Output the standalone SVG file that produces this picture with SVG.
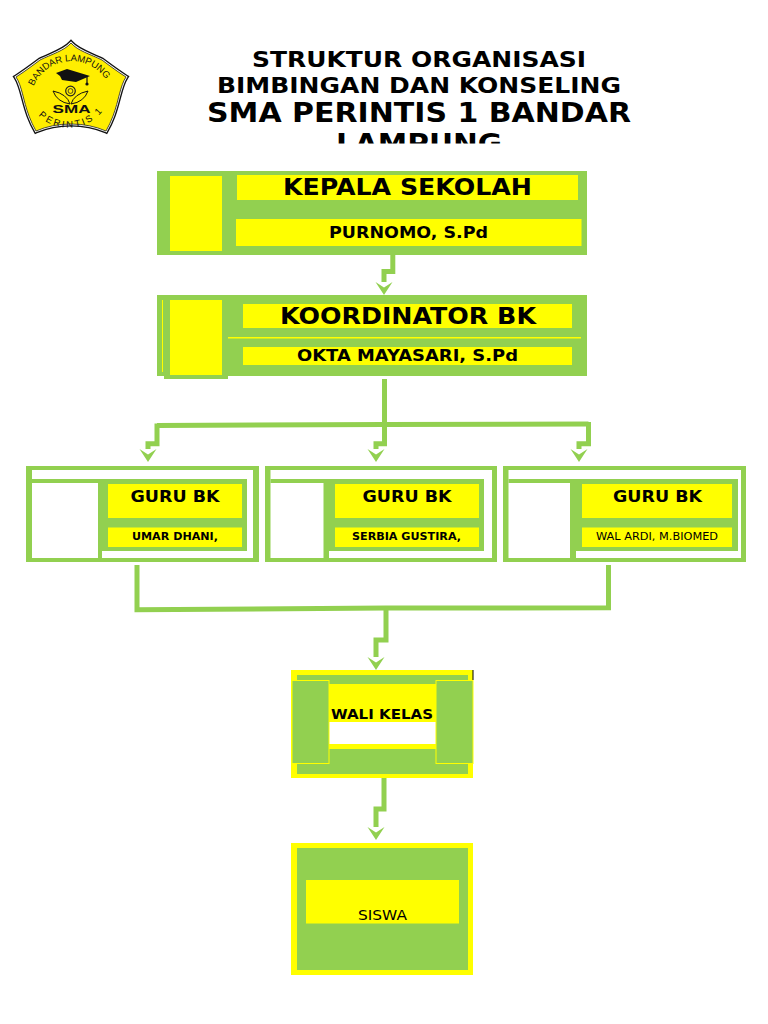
<svg xmlns="http://www.w3.org/2000/svg" width="768" height="1024" viewBox="0 0 768 1024">
<style>
.g{fill:#92D050}.y{fill:#FFFF00}.w{fill:#FFFFFF}
text{font-family:"DejaVu Sans",sans-serif;fill:#000;text-anchor:middle}
.b{font-weight:bold}
.lg{font-family:"Liberation Sans",sans-serif;fill:#111}
.c{fill:none;stroke:#92D050;stroke-width:5;stroke-linejoin:miter;marker-end:url(#chev)}
.n{fill:none;stroke:#92D050;stroke-width:5}
.sy{fill:#92D050;stroke:#FFFF00;stroke-width:1}
</style>
<defs>
<marker id="chev" markerUnits="userSpaceOnUse" markerWidth="14" markerHeight="18" viewBox="0 -9 14 18" refX="0" refY="0" orient="auto"><path d="M0,-8.500 L5.500,0 L0,8.500 L13,0 Z" fill="#92D050"/></marker>
<clipPath id="tc"><rect x="200" y="40" width="440" height="103.500"/></clipPath>
<path id="lo" d="M71,43 C78,51 90,54 102,60 C110,66 118,72 126,77 C120,86 119,100 113,116 Q110,124 106,131 Q90,124 71,124 Q52,124 36,131 Q32,124 29,116 C23,100 22,86 16,77 C24,72 32,66 40,60 C52,54 64,51 71,43 Z"/>
<path id="a1" d="M33,88 A41,41 0 0 1 110,88"/>
<path id="a2" d="M37,114 A43,43 0 0 0 101,113"/>
</defs>
<rect width="768" height="1024" fill="#FFFFFF"/>

<g id="logo">
<use href="#lo" fill="#FFEE00" stroke="#111" stroke-width="5" stroke-linejoin="miter"/>
<use href="#lo" fill="#FFEE00" stroke="#fff" stroke-width="2.400" stroke-linejoin="miter"/>
<use href="#lo" fill="#FFEE00" stroke="#222" stroke-width="0.800"/>
<text class="lg" font-size="9.500" style="text-anchor:start"><textPath href="#a1" textLength="88" startOffset="2">BANDAR LAMPUNG</textPath></text>
<text class="lg" font-size="9.500" style="text-anchor:start"><textPath href="#a2" textLength="72" startOffset="2">PERINTIS 1</textPath></text>
<path d="M56,73 L67,69 L90,76 L76,82 L62,80 L60,76 Z" fill="#111"/>
<path d="M87,76 V83" stroke="#111" stroke-width="1.200"/><circle cx="87" cy="84" r="1.600" fill="#111"/>
<circle cx="70.500" cy="91" r="4.800" fill="none" stroke="#222" stroke-width="1.200"/>
<circle cx="70.500" cy="91" r="2.400" fill="none" stroke="#222" stroke-width="0.800"/>
<path d="M53,91 Q67,94 70,104 Q57,102 53,91 Z M88,91 Q74,94 71,104 Q84,102 88,91 Z" fill="#FFEE00" stroke="#111" stroke-width="1"/>
<text class="lg" x="71.500" y="112.500" font-size="11" font-weight="bold" textLength="38" lengthAdjust="spacingAndGlyphs">SMA</text>
</g>

<g id="title">
<text class="b" x="419" y="67" font-size="21" textLength="334" lengthAdjust="spacingAndGlyphs">STRUKTUR ORGANISASI</text>
<text class="b" x="419" y="93" font-size="21" textLength="404" lengthAdjust="spacingAndGlyphs">BIMBINGAN DAN KONSELING</text>
<text class="b" x="419" y="122" font-size="26" textLength="424" lengthAdjust="spacingAndGlyphs">SMA PERINTIS 1 BANDAR</text>
<g clip-path="url(#tc)"><text class="b" x="419" y="153" font-size="26" textLength="166" lengthAdjust="spacingAndGlyphs">LAMPUNG</text></g>
</g>

<g id="connectors">
<polyline class="c" points="392.800,255 392.800,271.500 384,271.500 384,282"/>
<polyline class="n" points="384.500,379 384.500,445"/>
<polyline class="n" points="157,425.500 384,424.500 588.500,424"/>
<polyline class="c" points="157,423.500 157,443.800 148,443.800 148,449"/>
<polyline class="c" points="384.500,425 384.500,443.800 376,443.800 376,449"/>
<polyline class="c" points="588.500,422 588.500,443.800 579,443.800 579,449"/>
<polyline class="n" points="137,565 137,609.700 386,608 608.500,607.800 608.500,565"/>
<polyline class="c" points="386,608 386,640 376,640 376,657"/>
<polyline class="c" points="384,778 384,809 376,809 376,827"/>
</g>

<g id="kepala">
<rect class="g" x="157" y="171" width="430" height="84"/>
<rect class="y" x="170" y="176" width="52" height="75"/>
<rect class="y" x="237" y="175" width="341" height="25"/>
<rect class="y" x="236" y="219" width="345.500" height="27"/>
<text class="b" x="407.500" y="195" font-size="23.500" textLength="249" lengthAdjust="spacingAndGlyphs">KEPALA SEKOLAH</text>
<text class="b" x="408.500" y="238" font-size="15.500" textLength="159" lengthAdjust="spacingAndGlyphs">PURNOMO, S.Pd</text>
</g>

<g id="koordinator">
<rect class="g" x="157" y="295" width="430" height="81"/>
<rect class="g" x="164" y="299" width="64" height="80"/>
<rect class="y" x="162" y="300" width="1" height="72"/>
<rect class="y" x="170" y="300" width="52" height="75"/>
<rect class="y" x="243" y="304" width="329" height="24"/>
<rect class="y" x="228" y="337" width="353" height="1.500"/>
<rect class="y" x="243" y="347" width="329" height="18"/>
<text class="b" x="408" y="323.500" font-size="23.500" textLength="256" lengthAdjust="spacingAndGlyphs">KOORDINATOR BK</text>
<text class="b" x="407.500" y="361" font-size="15.500" textLength="221" lengthAdjust="spacingAndGlyphs">OKTA MAYASARI, S.Pd</text>
</g>

<g id="guru1">
<rect class="g" x="26" y="466" width="233" height="96"/>
<rect class="w" x="32" y="470" width="221" height="88"/>
<rect class="g" x="32" y="479" width="215" height="4"/>
<rect class="g" x="98" y="479" width="149" height="72"/>
<rect class="g" x="98" y="551" width="4" height="7"/>
<rect class="g" x="26" y="470" width="5" height="88"/>
<rect class="y" x="108" y="484" width="134" height="34"/>
<rect class="y" x="108" y="527.500" width="134" height="19.500"/>
<text class="b" x="175" y="502" font-size="16.500" textLength="89" lengthAdjust="spacingAndGlyphs">GURU BK</text>
<text class="b" x="175" y="540" font-size="11" textLength="86" lengthAdjust="spacingAndGlyphs">UMAR DHANI,</text>
</g>

<g id="guru2">
<rect class="g" x="265" y="466" width="232" height="96"/>
<rect class="w" x="270.500" y="470" width="221.500" height="88"/>
<rect class="g" x="270.500" y="479" width="213.500" height="4"/>
<rect class="g" x="323.500" y="479" width="160.500" height="72"/>
<rect class="g" x="323.500" y="551" width="5.500" height="7"/>
<rect class="y" x="335" y="484" width="144" height="34"/>
<rect class="y" x="335" y="527.500" width="144" height="19.500"/>
<text class="b" x="407" y="502" font-size="16.500" textLength="89" lengthAdjust="spacingAndGlyphs">GURU BK</text>
<text class="b" x="406.500" y="540" font-size="11" textLength="109" lengthAdjust="spacingAndGlyphs">SERBIA GUSTIRA,</text>
</g>

<g id="guru3">
<rect class="g" x="503" y="466" width="243" height="96"/>
<rect class="w" x="508.500" y="470" width="232.500" height="88"/>
<rect class="g" x="508.500" y="479" width="229.500" height="4"/>
<rect class="g" x="570" y="479" width="168" height="72"/>
<rect class="g" x="570" y="551" width="6" height="7"/>
<rect class="y" x="582" y="484" width="150" height="34"/>
<rect class="y" x="582" y="527.500" width="150" height="19.500"/>
<text class="b" x="657.500" y="502" font-size="16.500" textLength="89" lengthAdjust="spacingAndGlyphs">GURU BK</text>
<text x="657" y="540" font-size="11" textLength="122" lengthAdjust="spacingAndGlyphs">WAL ARDI, M.BIOMED</text>
</g>

<g id="wali">
<rect class="y" x="291" y="670" width="182" height="108"/>
<rect x="472.500" y="670" width="1" height="10" fill="#000"/>
<rect class="g" x="297" y="675" width="171" height="9"/>
<rect class="g" x="297" y="749" width="171" height="25"/>
<rect class="w" x="329" y="722" width="107" height="22"/>
<rect class="sy" x="292" y="680.500" width="37" height="83"/>
<rect class="sy" x="436" y="680.500" width="37" height="83"/>
<text class="b" x="382" y="719" font-size="14.500" textLength="102" lengthAdjust="spacingAndGlyphs">WALI KELAS</text>
</g>

<g id="siswa">
<rect class="y" x="291" y="843" width="182" height="132"/>
<rect class="g" x="297" y="848" width="171" height="122"/>
<rect class="y" x="306" y="880" width="153" height="43.500"/>
<text x="382.500" y="920" font-size="13.500" textLength="49" lengthAdjust="spacingAndGlyphs">SISWA</text>
</g>
</svg>
